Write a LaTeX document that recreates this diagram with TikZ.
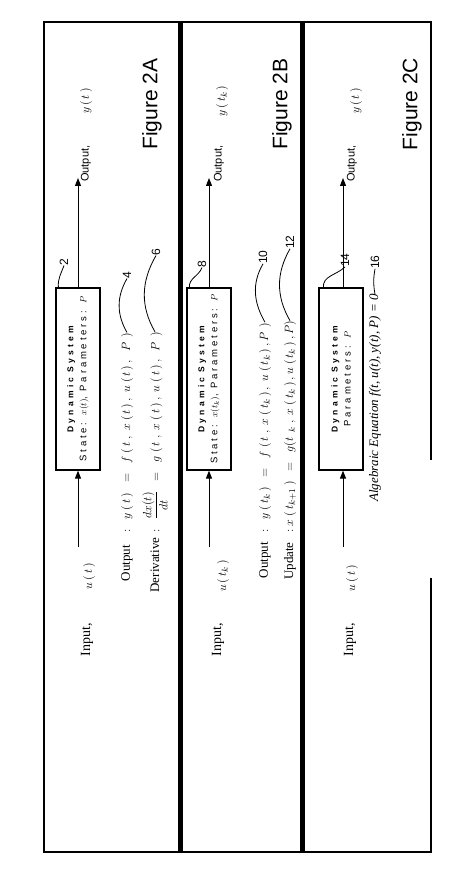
\documentclass[tikz,border=0pt]{standalone}
\usepackage{amsmath}
\usepackage{fontspec}
\setmainfont{Liberation Serif}
\newfontfamily\sansfig{Liberation Sans}
\newfontfamily\spacedsans[LetterSpace=30]{Liberation Sans}
\newfontfamily\widesans[LetterSpace=38]{Liberation Sans}
\usetikzlibrary{arrows.meta}

\begin{document}
\begin{tikzpicture}[x=1pt, y=-1pt,
  frame/.style={line width=1.2pt},
  divider/.style={line width=5pt},
  sysbox/.style={draw, line width=1.2pt, rotate=90, minimum width=182pt,
    minimum height=44pt, inner sep=0pt, align=center,
    font=\fontsize{9.5}{11}\selectfont},
  sig/.style={line width=1pt, -{Triangle[length=8pt,width=6pt]}},
  vtext/.style={rotate=90, inner sep=0pt},
  figlbl/.style={vtext, font=\sansfig\fontsize{21}{24}\selectfont},
  outlbl/.style={vtext, anchor=west, font=\sansfig\fontsize{11}{13}\selectfont},
  serlbl/.style={vtext, font=\fontsize{13}{15}\selectfont},
  eqn/.style={vtext, anchor=west, font=\fontsize{13}{15}\selectfont},
  refnum/.style={vtext, font=\sansfig\fontsize{12}{14}\selectfont},
  leader/.style={line width=0.8pt}
]
\useasboundingbox (0,0) rectangle (474,874);
% frame (open on the right beside the inputs) and panel dividers
\draw[frame] (431,460) -- (431,22) -- (44,22) -- (44,852) -- (431,852) -- (431,578);
\draw[divider] (180,22) -- (180,852);
\draw[divider] (302,22) -- (302,852);

% Figure 2A
\node[sysbox] (sysA) at (78,379) {{\widesans\bfseries\fontsize{8.5}{10}\selectfont Dynamic System}\\[2pt]
  {\spacedsans State: $x(t)$, Parameters: $P$}};
\coordinate (outA) at (78,178);
\coordinate (inA) at (78,547);
\draw[sig] (sysA.east) -- (outA);
\draw[sig] (inA) -- (sysA.west);
\node[outlbl] (olA) at (86,182) {Output,};
\node[serlbl] (yA) at (86,101) {$y\,(\,t\,)$};
\node[figlbl] (figA) at (152,104) {Figure 2A};
\node[refnum] (n2) at (64,262) {2};
\draw[leader] ([xshift=3pt]sysA.north east) to[out=95, in=-110] (n2.west);
\node[serlbl] (uA) at (89,576) {$u\,(\,t\,)$};
\node[serlbl, font=\fontsize{14}{16}\selectfont] (inlA) at (87,640) {Input,};
\node[serlbl] (owA) at (127,563) {Output};
\node[serlbl] (dwA) at (155,565) {Derivative};
\node[eqn] (eqA1) at (127,533) {$:\;\ y\;(\,t\,)\ \ =\ \ f\;(\,t\;,\ x\;(\,t\,)\,,\ u\;(\,t\,)\,,\ \ P\;\,)$};
\node[eqn] (eqA2) at (155,533) {$:\;\ \dfrac{dx(t)}{dt}\ \ =\ \ g\;(\,t\;,\ x\;(\,t\,)\,,\ u\;(\,t\,)\,,\ \ P\;\,)$};
\node[refnum] (n4) at (127,275) {4};
\node[refnum] (n6) at (156,252) {6};
\draw[leader] (eqA1.east) to[out=120, in=-120] (n4.west);
\draw[leader] (eqA2.east) to[out=120, in=-120] (n6.west);

% Figure 2B
\node[sysbox] (sysB) at (209,379) {{\widesans\bfseries\fontsize{8.5}{10}\selectfont Dynamic System}\\[2pt]
  {\spacedsans State: $x(t_k)$, Parameters: $P$}};
\coordinate (outB) at (209,178);
\coordinate (inB) at (209,547);
\draw[sig] (sysB.east) -- (outB);
\draw[sig] (inB) -- (sysB.west);
\node[outlbl] (olB) at (219,182) {Output,};
\node[serlbl] (yB) at (222,101) {$y\,(\,t_{k}\,)$};
\node[figlbl] (figB) at (282,104) {Figure 2B};
\node[refnum] (n8) at (202,264) {8};
\draw[leader] ([xshift=3pt]sysB.north east) to[out=95, in=-110] (n8.west);
\node[serlbl] (uB) at (223,576) {$u\,(\,t_{k}\,)$};
\node[serlbl, font=\fontsize{14}{16}\selectfont] (inlB) at (218,640) {Input,};
\node[serlbl] (owB) at (265,560) {Output};
\node[serlbl] (uwB) at (290,561) {Update};
\node[eqn] (eqB1) at (265,533) {$:\;\ y\;(\,t_{k}\,)\ \ =\ \ f\;(\,t\;,\ x\;(\,t_{k}\,)\,,\ u\;(\,t_{k}\,)\,,P\;\,)$};
\node[eqn] (eqB2) at (290,533) {$:x\;(\,t_{k+1}\,)\ \ =\ \ g(t_{\;\;k}\;,\ x\;(\,t_{k}\,)\,,u\;(\,t_{k}\,)\,,P)$};
\node[refnum] (n10) at (263,257) {10};
\node[refnum] (n12) at (290,242) {12};
\draw[leader] (eqB1.east) to[out=120, in=-120] (n10.west);
\draw[leader] (eqB2.east) to[out=120, in=-120] (n12.west);

% Figure 2C
\node[sysbox] (sysC) at (341,379) {{\widesans\bfseries\fontsize{8.5}{10}\selectfont Dynamic System}\\[2pt]
  {\spacedsans Parameters: $P$}};
\coordinate (outC) at (343,178);
\coordinate (inC) at (343,547);
\draw[sig] (sysC.east -| outC) -- (outC);
\draw[sig] (inC) -- (sysC.west -| inC);
\node[outlbl] (olC) at (352,182) {Output,};
\node[serlbl] (yC) at (356,101) {$y\,(\,t\,)$};
\node[figlbl] (figC) at (412,104) {Figure 2C};
\node[refnum] (n14) at (345,260) {14};
\draw[leader] ([xshift=5pt]sysC.north east) to[out=95, in=-135] (n14.west);
\node[serlbl] (uC) at (352,578) {$u\,(\,t\,)$};
\node[serlbl, font=\fontsize{14}{16}\selectfont] (inlC) at (350,640) {Input,};
\node[eqn] (eqC) at (375,502) {\itshape Algebraic Equation f(t, u(t), y(t), P) = 0};
\node[refnum] (n16) at (375,262) {16};
\draw[leader] (eqC.east) to[out=100, in=-100] (n16.west);
\end{tikzpicture}
\end{document}
